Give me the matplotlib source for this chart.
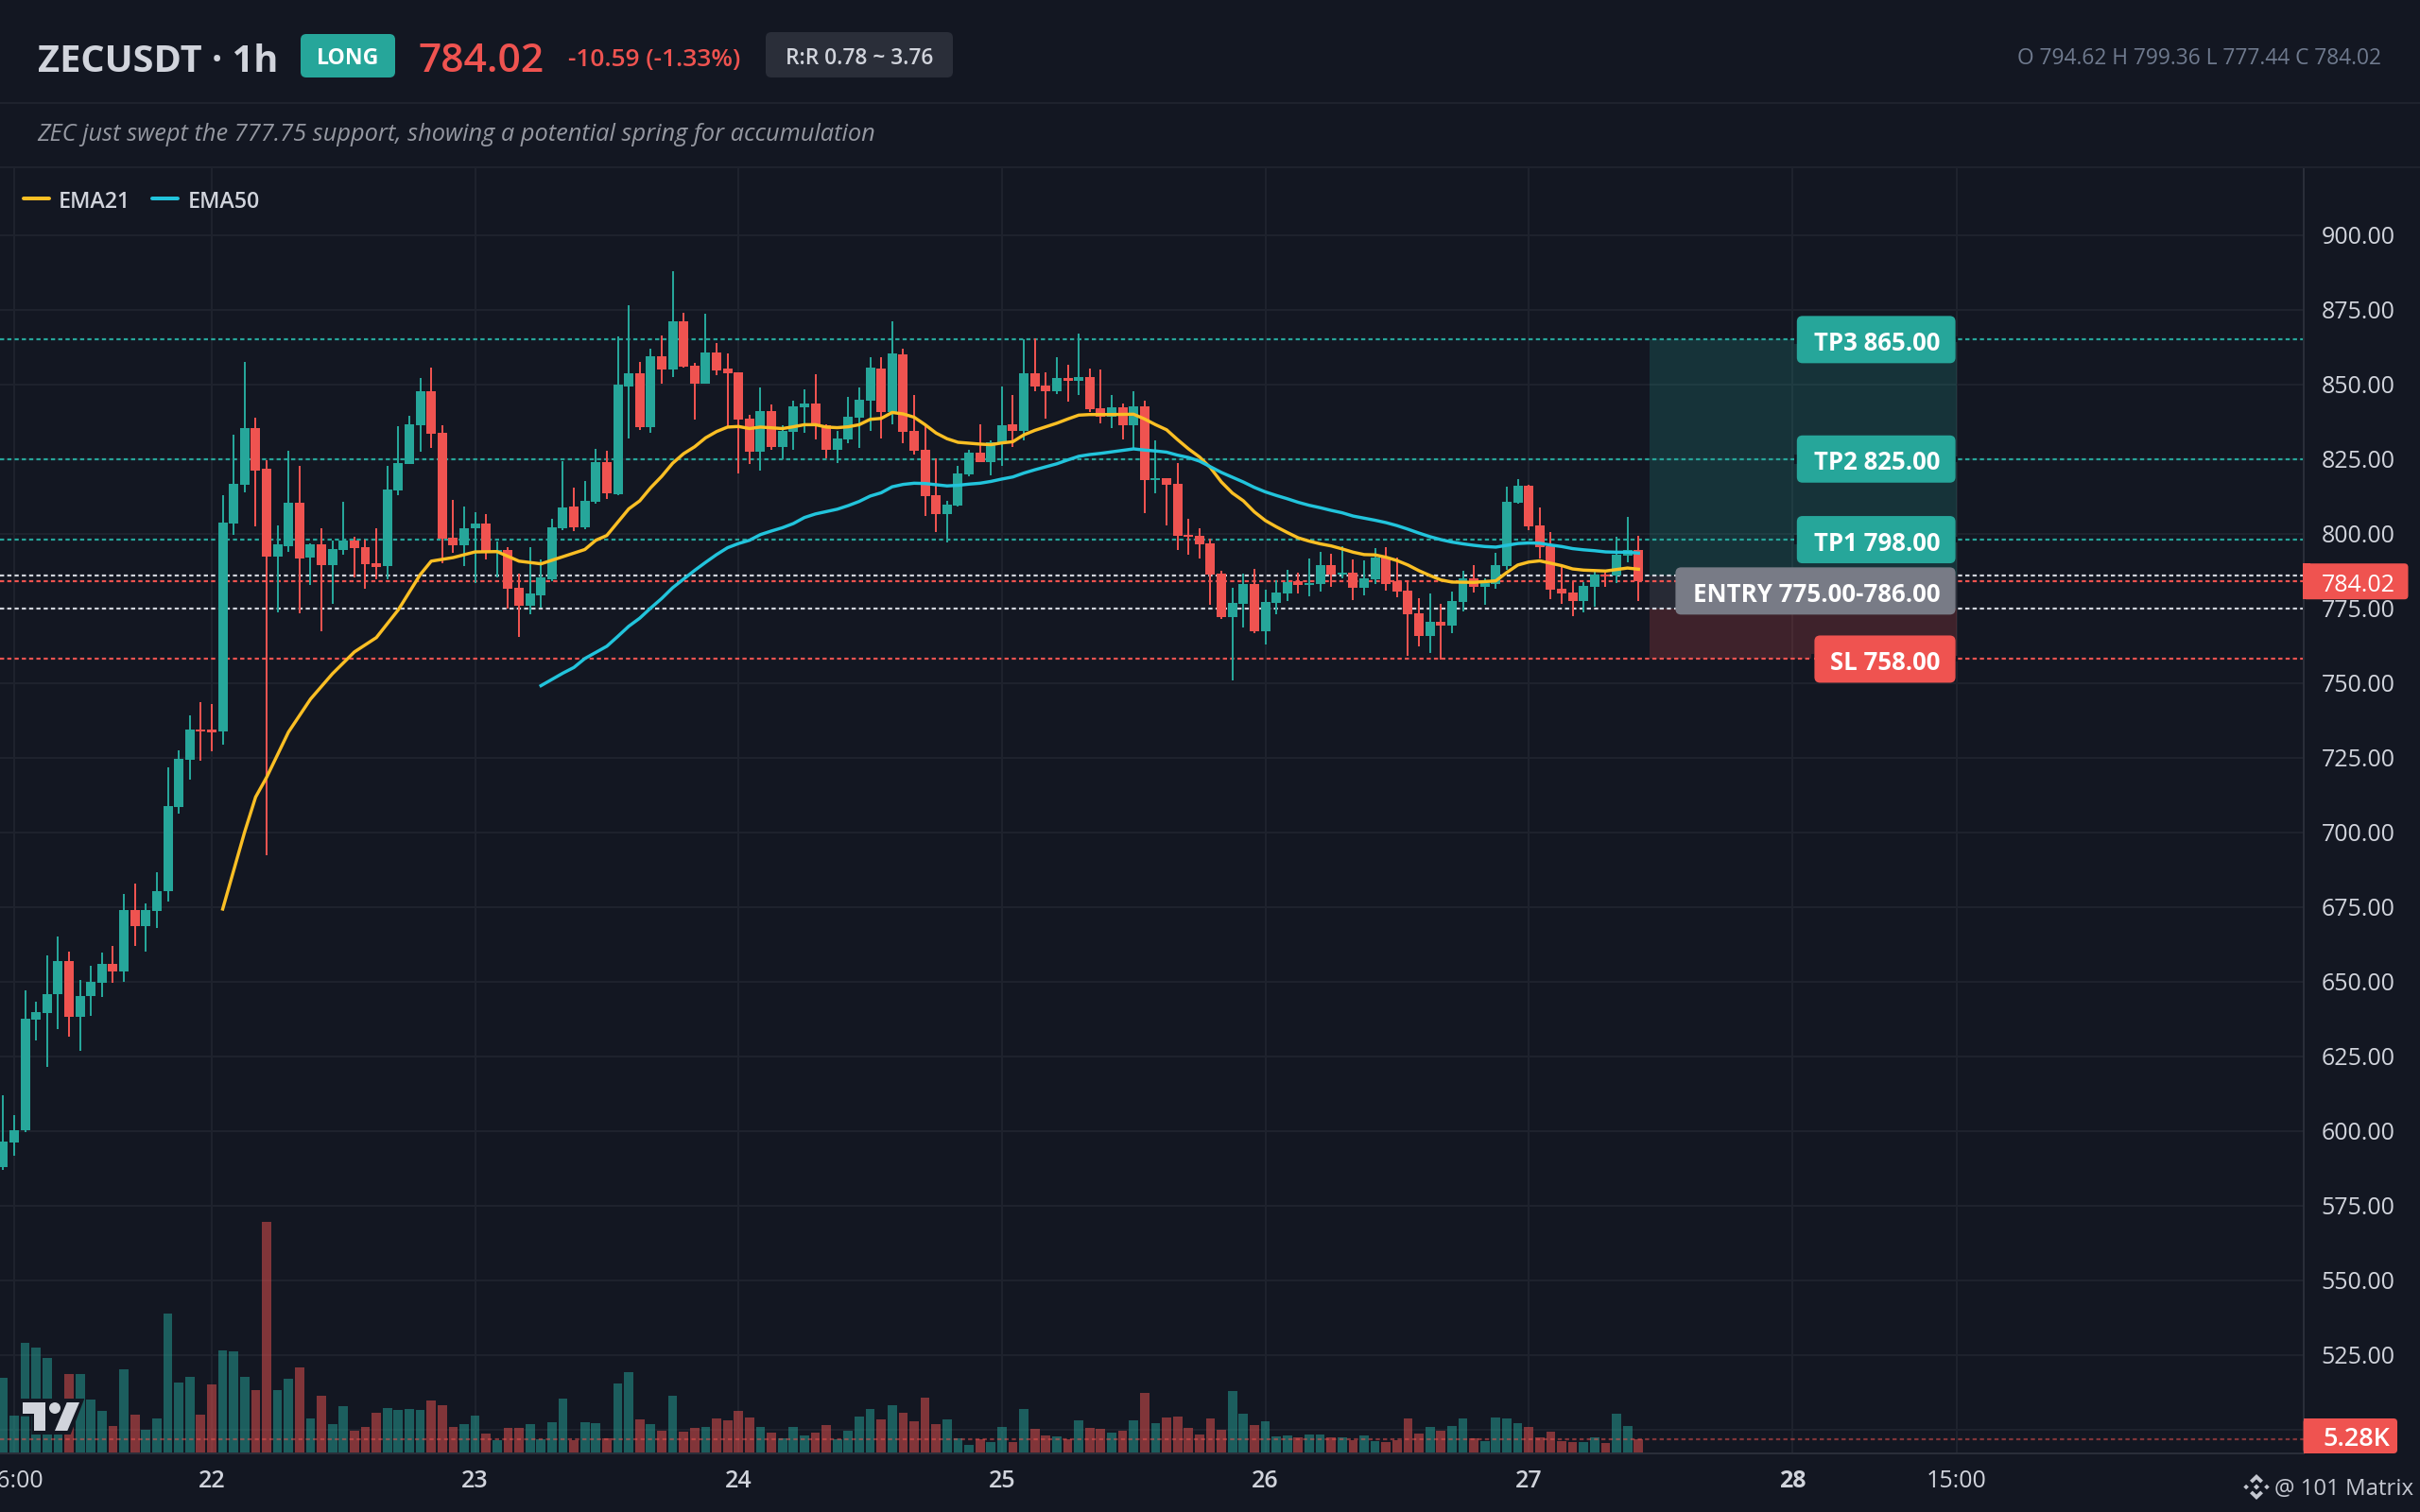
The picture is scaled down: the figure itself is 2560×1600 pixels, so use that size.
import matplotlib
matplotlib.use('Agg')
import matplotlib.pyplot as plt
from matplotlib.patches import FancyBboxPatch, Rectangle, Polygon, Circle

plt.rcParams['font.family'] = ['Open Sans', 'Noto Sans', 'DejaVu Sans']

BG = '#131722'
GRID = '#1e222d'
AXIS = '#2a2e39'
TEXT = '#d1d4dc'
GREEN = '#26a69a'
RED = '#ef5350'
GREY = '#787b86'
YELLOW = '#fbbf24'
CYAN = '#22c4dc'

W, H = 2560, 1600

# hours counted from the 22nd 00:00, one bar per hour
hours = list(range(-19, 131))

opens = [587.9, 596.1, 600.2, 637.2, 639.4, 645.8, 656.8, 638.2, 645.1, 649.6,
         655.9, 653.4, 673.9, 668.6, 673.6, 680.2, 708.4, 724.4, 734.4, 734.3,
         733.8, 803.5, 816.5, 835.3, 821.7, 792.3, 795.7, 810.4, 792.0, 796.4,
         789.5, 794.6, 797.7, 795.4, 790.1, 789.1, 814.5, 823.3, 836.3, 847.7,
         833.7, 798.7, 796.1, 801.8, 803.4, 794.0, 794.6, 781.9, 775.8, 779.3,
         784.8, 801.8, 809.1, 802.1, 810.7, 824.0, 813.2, 849.3, 853.7, 835.7,
         859.4, 855.0, 871.1, 856.2, 850.2, 860.7, 855.3, 854.0, 838.5, 827.4,
         841.0, 829.0, 834.1, 842.3, 843.6, 836.3, 828.1, 831.6, 838.8, 844.5,
         855.3, 840.7, 860.0, 834.4, 828.1, 812.9, 806.6, 809.4, 819.8, 827.1,
         824.0, 830.6, 836.6, 834.4, 853.7, 849.6, 847.7, 852.1, 851.2, 852.4,
         842.0, 839.1, 842.3, 836.3, 842.6, 817.9, 818.6, 816.7, 799.5, 799.3,
         796.7, 786.6, 772.0, 776.5, 783.1, 767.3, 776.8, 780.0, 784.1, 782.8,
         783.1, 789.5, 786.3, 786.9, 781.9, 784.7, 792.0, 784.1, 780.9, 773.3,
         765.7, 770.5, 769.2, 777.1, 785.0, 782.2, 783.1, 789.1, 810.3, 816.0,
         802.7, 795.8, 781.5, 780.3, 777.4, 782.2, 786.3, 786.0, 792.6, 794.62]
highs = [611.9, 605.3, 647.0, 643.2, 658.7, 665.1, 660.0, 650.5, 655.3, 659.7,
         661.9, 679.3, 682.8, 676.1, 686.6, 721.7, 727.5, 739.2, 743.7, 742.9,
         812.8, 833.2, 857.5, 838.7, 824.7, 802.8, 827.8, 822.8, 796.9, 801.9,
         797.6, 810.7, 799.1, 798.0, 801.7, 822.7, 836.0, 839.5, 852.1, 855.6,
         836.3, 811.3, 809.1, 807.2, 806.6, 797.4, 795.4, 786.5, 795.4, 791.5,
         804.9, 824.3, 815.4, 817.6, 828.4, 827.8, 866.0, 876.5, 857.5, 861.9,
         866.4, 887.9, 874.0, 857.2, 873.6, 863.8, 860.4, 854.0, 839.8, 849.0,
         843.2, 836.3, 844.5, 848.3, 853.4, 836.6, 834.4, 845.8, 849.0, 859.1,
         859.1, 871.1, 861.9, 846.4, 836.0, 825.2, 811.0, 822.7, 828.1, 836.6,
         831.2, 849.3, 846.4, 865.1, 865.4, 854.0, 859.1, 856.6, 867.0, 855.3,
         855.0, 846.4, 843.6, 847.7, 844.5, 831.2, 818.6, 823.6, 805.0, 801.8,
         798.3, 787.6, 781.9, 786.6, 788.2, 781.2, 784.4, 787.9, 786.9, 791.7,
         793.9, 793.3, 795.8, 791.4, 791.0, 795.2, 795.5, 792.0, 784.1, 778.4,
         780.0, 776.5, 780.6, 787.6, 789.5, 785.0, 793.6, 815.7, 818.3, 816.4,
         808.8, 800.5, 788.8, 784.1, 783.8, 787.2, 786.9, 798.9, 805.6, 799.36]
lows = [586.9, 591.7, 599.6, 630.3, 621.4, 634.1, 631.5, 626.8, 638.5, 644.8,
        649.6, 649.9, 661.9, 660.0, 667.9, 676.8, 706.4, 717.5, 724.1, 727.2,
        729.5, 799.7, 813.8, 802.5, 692.2, 773.8, 793.9, 773.3, 782.9, 767.2,
        776.5, 792.9, 785.4, 781.7, 784.7, 784.8, 812.8, 823.3, 827.4, 828.6,
        790.1, 793.6, 789.1, 783.4, 791.3, 785.5, 775.0, 765.3, 773.0, 775.2,
        784.1, 801.1, 800.8, 801.5, 810.0, 811.6, 812.9, 832.0, 834.7, 833.9,
        850.2, 852.4, 855.6, 838.3, 850.2, 853.1, 836.0, 820.2, 823.3, 821.1,
        828.1, 824.9, 828.1, 833.8, 831.6, 825.2, 823.6, 830.3, 828.7, 834.4,
        831.9, 836.6, 830.3, 826.5, 805.9, 800.5, 797.1, 809.1, 819.2, 824.0,
        819.5, 822.7, 829.0, 831.2, 847.7, 838.5, 846.7, 844.2, 846.4, 840.7,
        836.9, 835.4, 831.6, 828.4, 806.9, 813.5, 802.8, 794.5, 792.9, 791.7,
        776.2, 771.4, 750.8, 768.6, 766.7, 762.9, 773.0, 777.4, 780.0, 779.0,
        780.6, 782.2, 785.0, 777.7, 779.3, 783.1, 780.9, 778.7, 759.1, 762.2,
        760.0, 757.8, 766.7, 773.9, 780.3, 776.2, 781.5, 787.9, 810.0, 801.2,
        791.7, 778.1, 776.5, 772.4, 773.6, 775.5, 782.2, 783.4, 790.4, 777.44]
closes = [596.4, 600.2, 637.5, 639.8, 645.8, 656.8, 638.2, 645.1, 649.9, 655.9,
          653.4, 673.9, 668.6, 673.9, 680.3, 708.7, 724.5, 734.4, 733.8, 733.6,
          803.6, 816.6, 835.3, 821.2, 792.2, 796.4, 810.4, 791.6, 796.4, 789.5,
          794.9, 797.7, 795.2, 789.8, 788.8, 814.8, 823.7, 836.6, 847.7, 833.4,
          798.3, 796.1, 801.8, 803.4, 794.0, 794.6, 781.6, 775.8, 779.9, 785.5,
          802.1, 808.7, 802.1, 811.0, 824.0, 813.5, 849.9, 853.7, 835.7, 859.4,
          855.0, 871.1, 855.9, 850.2, 860.7, 854.7, 853.7, 838.2, 827.4, 841.0,
          829.0, 834.4, 842.6, 843.6, 836.3, 828.1, 831.9, 839.2, 844.8, 855.6,
          840.7, 860.4, 834.1, 827.8, 812.6, 806.6, 809.7, 820.2, 827.1, 824.0,
          830.6, 836.3, 834.4, 853.7, 849.3, 847.7, 852.1, 851.2, 852.4, 841.7,
          839.1, 842.3, 836.3, 842.6, 817.9, 818.6, 816.4, 799.3, 798.9, 796.4,
          786.3, 772.0, 776.8, 783.1, 767.3, 777.1, 780.3, 783.8, 782.8, 783.4,
          789.5, 786.3, 786.9, 781.9, 785.0, 792.0, 783.1, 780.6, 773.0, 765.7,
          770.5, 769.2, 777.4, 785.0, 782.2, 783.4, 789.5, 810.7, 816.0, 802.4,
          795.5, 781.2, 780.0, 777.4, 782.5, 786.3, 785.7, 792.9, 794.5, 784.02]

# volume in thousands
volumes = [29.8, 14.7, 43.7, 41.9, 37.7, 12.6, 31.3, 31.3, 21.1, 16.6,
           10.6, 33.3, 15.2, 9.2, 13.7, 55.6, 28.0, 30.3, 15.2, 27.3,
           40.9, 40.5, 30.3, 25.0, 92.1, 25.0, 29.5, 34.1, 13.7, 22.8,
           11.4, 18.6, 8.8, 10.3, 16.0, 17.8, 17.1, 17.5, 17.1, 20.9,
           19.0, 10.3, 11.4, 14.8, 7.7, 5.0, 9.9, 9.9, 11.4, 5.4,
           12.2, 21.6, 5.0, 12.2, 11.8, 5.8, 27.7, 32.2, 13.3, 11.4,
           8.8, 22.8, 8.4, 9.9, 10.3, 13.7, 12.9, 16.7, 14.1, 10.3,
           8.0, 5.8, 10.3, 6.9, 8.0, 11.1, 5.4, 8.8, 14.3, 17.3,
           13.2, 18.9, 15.8, 12.4, 21.9, 11.3, 13.2, 5.7, 3.0, 5.3,
           4.1, 10.2, 4.1, 17.3, 9.4, 6.8, 6.4, 5.3, 12.8, 9.8,
           9.4, 7.9, 8.7, 12.8, 23.8, 11.7, 14.0, 14.3, 9.8, 7.2,
           13.6, 9.1, 24.5, 15.5, 10.9, 12.4, 6.4, 6.8, 6.0, 7.2,
           7.2, 6.0, 6.0, 4.9, 6.8, 4.5, 4.1, 4.9, 13.6, 7.5,
           10.2, 8.7, 10.6, 13.6, 5.7, 4.5, 14.0, 13.6, 11.7, 10.2,
           6.0, 8.3, 4.5, 4.1, 4.1, 6.0, 3.8, 15.5, 10.6, 5.28]

ema21_hours = [1, 3, 4, 5, 7, 9, 11, 13, 15, 17, 19, 20, 22, 24, 26, 28, 30, 32, 34, 35,
               36, 38, 39, 40, 41, 42, 43, 44, 45, 46, 47, 48, 49, 50, 52, 53, 54, 55, 56, 57,
               58, 59, 60, 61, 62, 63, 64, 65, 66, 67, 68, 70, 71, 72, 73, 74, 75, 76, 77, 78,
               79, 80, 82, 84, 85, 86, 87, 88, 89, 90, 91, 92, 93, 94, 95, 96, 97, 98, 99, 100,
               101, 102, 103, 104, 105, 106, 107, 108, 109, 110, 111, 112, 113, 115, 117, 118,
               119, 120, 121, 122, 123, 124, 125, 127, 128, 129, 130]
ema21 = [674.3, 700.1, 711.8, 718.4, 733.6, 744.6, 753.1, 760.4, 765.2, 774.5, 786.3, 790.8, 792.0, 793.9, 794.0, 790.8, 789.9, 792.3, 794.7, 797.8,
         799.4, 808.3, 811.0, 815.4, 819.2, 823.6, 826.8, 829.1, 832.1, 834.2, 835.7, 835.9, 835.2, 835.7, 835.2, 835.8, 836.5, 836.5, 835.7, 835.5,
         835.8, 836.5, 838.3, 838.6, 840.6, 840.1, 839.0, 836.5, 833.7, 831.8, 830.6, 830.0, 829.8, 830.4, 830.8, 833.1, 834.6, 835.8, 837.0, 838.4,
         839.7, 839.9, 839.9, 840.0, 838.4, 836.5, 834.8, 831.5, 828.4, 825.7, 822.1, 817.3, 813.6, 811.0, 807.3, 804.4, 802.3, 800.4, 798.6, 797.5,
         796.6, 795.9, 794.9, 793.8, 793.0, 792.9, 792.1, 791.0, 789.5, 787.6, 786.0, 784.5, 783.8, 783.7, 784.2, 787.0,
         789.5, 790.5, 790.9, 790.1, 789.3, 788.2, 787.8, 787.5, 788.0, 788.5, 788.1]

ema50_hours = [30, 32, 33, 34, 36, 37, 38, 39, 40, 41, 42, 43, 44, 45, 46, 47, 48, 49, 50, 51,
               52, 53, 54, 55, 56, 57, 58, 59, 60, 61, 62, 63, 64, 65, 66, 67, 68, 69, 70, 71,
               72, 73, 74, 75, 76, 77, 78, 79, 80, 81, 82, 83, 84, 85, 86, 87, 88, 89, 90, 91,
               92, 93, 94, 95, 96, 97, 98, 99, 100, 101, 102, 103, 104, 105, 106, 107, 108, 109, 110, 111,
               112, 113, 114, 115, 116, 117, 118, 119, 120, 121, 122, 123, 124, 125, 126, 127, 128, 129, 130]
ema50 = [749.1, 753.3, 755.2, 758.2, 762.3, 765.6, 769.0, 771.7, 775.1, 778.3, 781.9, 784.8, 787.7, 790.4, 793.0, 795.3, 796.7, 797.8, 799.7, 800.9,
         802.0, 803.4, 805.4, 806.6, 807.4, 808.2, 809.4, 810.8, 812.6, 813.7, 815.7, 816.5, 816.9, 816.8, 816.4, 816.0, 816.2, 816.6, 816.9, 817.5,
         818.3, 819.0, 820.3, 821.4, 822.4, 823.4, 824.7, 825.9, 826.5, 826.9, 827.4, 827.9, 828.4, 828.0, 827.7, 827.3, 826.3, 825.5, 824.3, 822.4,
         820.5, 818.9, 817.3, 815.5, 814.0, 812.8, 811.7, 810.5, 809.5, 808.7, 807.8, 807.0, 805.9, 805.2, 804.5, 803.7, 802.7, 801.5, 800.2, 799.0,
         798.0, 797.2, 796.6, 796.1, 795.7, 795.5, 796.1, 796.7, 796.9, 796.8, 796.2, 795.7, 795.0, 794.6, 794.3, 793.9, 793.8, 793.8, 793.5]

price_ticks = [500, 525, 550, 575, 600, 625, 650, 675, 700, 725, 750, 775, 800, 825, 850, 875, 900]
time_ticks = [-18, 0, 24, 48, 72, 96, 120, 144, 159]
time_labels = ['06:00', '22', '23', '24', '25', '26', '27', '28', '15:00']

last_price = 784.02
last_volume = 5.28
tp_levels = [865.0, 825.0, 798.0]
entry_high, entry_low = 786.0, 775.0
stop_level = 758.0
plan_start, plan_end = 131, 159

fig = plt.figure(figsize=(W / 100, H / 100), dpi=100, facecolor=BG)


def box_rect(left, top, right, bottom):
    return [left / W, 1 - bottom / H, (right - left) / W, (bottom - top) / H]


def px(v):
    # pixel length to points at dpi 100
    return v * 0.72


ax = fig.add_axes(box_rect(0, 176.7, 2436.6, 1538), facecolor=BG, zorder=1)
ax.set_xlim(-19.29, 190.58)
ax.set_ylim(492.0, 922.8)
ax.grid(True, color=GRID, lw=px(2))
ax.set_axisbelow(True)
for s in ['top', 'left']:
    ax.spines[s].set_visible(False)
for s in ['bottom', 'right']:
    ax.spines[s].set_color(AXIS)
    ax.spines[s].set_linewidth(px(2))
ax.yaxis.tick_right()
ax.set_yticks(price_ticks)
ax.set_yticklabels(['%.2f' % p for p in price_ticks])
ax.set_xticks(time_ticks)
ax.set_xticklabels(time_labels)
ax.tick_params(axis='y', length=0, pad=px(19), labelsize=px(25), labelcolor=TEXT)
ax.tick_params(axis='x', length=0, pad=px(17), labelsize=px(25), labelcolor=TEXT)
for lab in ax.get_yticklabels():
    lab.set_fontweight('medium')
for lab, txt in zip(ax.get_xticklabels(), time_labels):
    if txt == '28':
        lab.set_fontweight('bold')
    else:
        lab.set_fontweight('medium' if ':' in txt else 'semibold')

# trade plan zones
ax.add_patch(Rectangle((plan_start, entry_high), plan_end - plan_start, tp_levels[0] - entry_high,
                       facecolor=GREEN, alpha=0.2, lw=0, zorder=1))
ax.add_patch(Rectangle((plan_start, entry_low), plan_end - plan_start, entry_high - entry_low,
                       facecolor=GREY, alpha=0.2, lw=0, zorder=1))
ax.add_patch(Rectangle((plan_start, stop_level), plan_end - plan_start, entry_low - stop_level,
                       facecolor=RED, alpha=0.2, lw=0, zorder=1))

dash = (0, (2, 1.5))
for lvl in tp_levels:
    ax.axhline(lvl, color=GREEN, lw=px(2.2), ls=dash, zorder=2)
for lvl in [entry_high, entry_low]:
    ax.axhline(lvl, color=TEXT, lw=px(2.2), ls=dash, zorder=2)
ax.axhline(stop_level, color=RED, lw=px(2.2), ls=dash, zorder=2)
ax.axhline(last_price, color=RED, lw=px(2.2), ls=dash, zorder=2)

# candles
colors = [GREEN if c >= o else RED for o, c in zip(opens, closes)]
ax.vlines(hours, lows, highs, colors=colors, lw=px(2), zorder=3)
ax.bar(hours, [abs(c - o) for o, c in zip(opens, closes)], bottom=[min(o, c) for o, c in zip(opens, closes)],
       width=0.86, color=colors, lw=0, zorder=3)

ax.plot(ema21_hours, ema21, color=YELLOW, lw=px(3.4), zorder=4, solid_joinstyle='round')
ax.plot(ema50_hours, ema50, color=CYAN, lw=px(3.4), zorder=4, solid_joinstyle='round')

# volume pane, same x scale
vax = fig.add_axes(box_rect(0, 1272, 2436.6, 1537), zorder=2)
vax.patch.set_alpha(0)
vax.set_xlim(ax.get_xlim())
vax.set_ylim(0, 100)
vax.axis('off')
vax.bar(hours, volumes, width=0.84, color=colors, alpha=0.5, lw=0)
vax.axhline(last_volume, color=RED, alpha=0.5, lw=px(2.2), ls=dash)

# everything in screen pixels from here on
ov = fig.add_axes([0, 0, 1, 1], zorder=5)
ov.set_xlim(0, W)
ov.set_ylim(H, 0)
ov.axis('off')
ov.patch.set_alpha(0)


def price_y(p):
    return H - ax.transData.transform((0, p))[1]


def rbox(left, top, right, bottom, color, r=6, z=5, **kw):
    ov.add_patch(FancyBboxPatch((left + r, top + r), right - left - 2 * r, bottom - top - 2 * r,
                                boxstyle='round,pad=%g,rounding_size=%g' % (r, r),
                                facecolor=color, lw=0, zorder=z, **kw))


def label(x, y, s, size, color=TEXT, weight='normal', ha='left', va='baseline', **kw):
    ov.text(x, y, s, fontsize=px(size), color=color, fontweight=weight, ha=ha, va=va, zorder=7, **kw)


ov.plot([0, W], [108.7, 108.7], color=GRID, lw=px(2))
ov.plot([0, W], [176.7, 176.7], color=GRID, lw=px(2))

label(40, 76, 'ZECUSDT · 1h', 39.7, weight='bold')
rbox(318, 36, 418, 82, GREEN)
label(368, 59, 'LONG', 23, color='white', weight='bold', ha='center', va='center_baseline')
label(443, 76, '784.02', 42.5, color=RED, weight='semibold')
label(601, 70, '-10.59 (-1.33%)', 26.3, color=RED, weight='semibold')
rbox(810, 34, 1008, 82, AXIS)
label(909, 59, 'R:R 0.78 ~ 3.76', 22.8, weight='semibold', ha='center', va='center_baseline')
label(2519, 68, 'O 794.62 H 799.36 L 777.44 C 784.02', 22.8, color='#6f7a8e', ha='right')
label(39, 149, 'ZEC just swept the 777.75 support, showing a potential spring for accumulation', 25.4,
      color='#9598a1', style='italic')

ov.plot([25, 52], [210, 210], color=YELLOW, lw=px(4), solid_capstyle='round')
label(62, 220, 'EMA21', 23.2, weight='semibold')
ov.plot([161, 188], [210, 210], color=CYAN, lw=px(4), solid_capstyle='round')
label(199, 220, 'EMA50', 23.2, weight='semibold')

# level tags
tags = [('TP3 865.00', tp_levels[0], 1900.8, GREEN),
        ('TP2 825.00', tp_levels[1], 1900.8, GREEN),
        ('TP1 798.00', tp_levels[2], 1900.8, GREEN),
        ('SL 758.00', stop_level, 1919.4, RED)]
for txt, lvl, left, col in tags:
    yc = price_y(lvl)
    ov.add_patch(Rectangle((left - 3, yc - 5), 3, 10, facecolor=BG, lw=0, zorder=4))
    ov.add_patch(Rectangle((2068.6, yc - 3), 2.5, 6, facecolor=BG, lw=0, zorder=4))
    rbox(left, yc - 25, 2068.6, yc + 25, col)
    label(2052.7, yc + 1, txt, 25.8, color='white', weight='bold', ha='right', va='center_baseline')

yc = (price_y(entry_high) + price_y(entry_low)) / 2 - 1
rbox(1772.4, yc - 25, 2068.6, yc + 25, GREY)
label(2052.7, yc + 1, 'ENTRY 775.00-786.00', 25.9, color='white', weight='bold', ha='right', va='center_baseline')

# axis tags
yc = price_y(last_price)
rbox(2436, yc - 19, 2547.5, yc + 19, RED, r=4)
ov.add_patch(Rectangle((2436, yc - 19), 8, 38, facecolor=RED, lw=0, zorder=5))
label(2456, yc + 1, '%.2f' % last_price, 25, color='white', weight='medium', ha='left', va='center_baseline')
rbox(2436.6, 1501, 2536, 1538, RED, r=4)
ov.add_patch(Rectangle((2436.6, 1501), 8, 37, facecolor=RED, lw=0, zorder=5))
label(2457, 1520, '5.28K', 27, color='white', weight='semibold', va='center_baseline')

# tradingview logo
ov.add_patch(Polygon([(22, 1480), (89.3, 1480), (74.7, 1518), (33.3, 1518), (33.3, 1498.7), (22, 1498.7)],
                     facecolor=BG, lw=0, zorder=6))
ov.add_patch(Polygon([(24, 1484), (48, 1484), (48, 1514), (36, 1514), (36, 1496), (24, 1496)],
                     facecolor=TEXT, lw=0, zorder=7))
ov.add_patch(Circle((58, 1490), 6, facecolor=TEXT, lw=0, zorder=7))
ov.add_patch(Polygon([(70.7, 1484), (84, 1484), (71.3, 1514), (58, 1514)], facecolor=TEXT, lw=0, zorder=7))

# watermark
cx, cy, sx, sy = 2387, 1573.5, 14, 13.5
chevron = [(0, -1), (0.5, -0.5), (0.3, -0.3), (0, -0.6), (-0.3, -0.3), (-0.5, -0.5)]
ov.add_patch(Polygon([(cx + a * sx, cy + b * sy) for a, b in chevron], facecolor='#c4c7d0', lw=0, zorder=7))
ov.add_patch(Polygon([(cx + a * sx, cy - b * sy) for a, b in chevron], facecolor='#c4c7d0', lw=0, zorder=7))
for mx, r in [(-0.78, 0.2), (0, 0.22), (0.78, 0.2)]:
    ov.add_patch(Polygon([(cx + (mx - r) * sx, cy), (cx + mx * sx, cy - r * sy),
                          (cx + (mx + r) * sx, cy), (cx + mx * sx, cy + r * sy)],
                         facecolor='#c4c7d0', lw=0, zorder=7))
label(2406, 1582, '@ 101 Matrix', 24, color='#c4c7d0')

fig.savefig('out.png', dpi=100, facecolor=BG)
